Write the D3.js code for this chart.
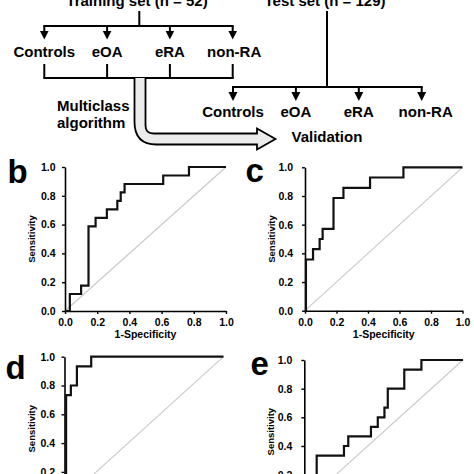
<!DOCTYPE html>
<html><head><meta charset="utf-8">
<script src="https://cdn.jsdelivr.net/npm/d3@7"></script>
<style>html,body{margin:0;padding:0;background:#fff;overflow:hidden}svg{display:block}</style>
</head><body>
<svg id="chart" width="474" height="474"></svg>
<script>
// ---------- data ----------
const categories = ["Controls", "eOA", "eRA", "non-RA"];
const cohortTitles = ["Training set (n = 52)", "Test set (n = 129)"];
const algorithmLabel = ["Multiclass", "algorithm"];
const validationLabel = "Validation";
const panelLetters = ["b", "c", "d", "e"];
const tickValues = [0, 0.2, 0.4, 0.6, 0.8, 1.0];
const xTitle = "1-Specificity";
const yTitle = "Sensitivity";

// ROC corner points: 1-specificity and sensitivity
const fprB = [0, 0.03, 0.10, 0.146, 0.19, 0.26, 0.325, 0.346, 0.37, 0.61, 0.77, 1];
const tprB = [0, 0.118, 0.176, 0.588, 0.647, 0.706, 0.765, 0.824, 0.882, 0.941, 1, 1];
const fprC = [0, 0.006, 0.051, 0.093, 0.112, 0.181, 0.244, 0.413, 0.625, 1];
const tprC = [0, 0.357, 0.429, 0.5, 0.571, 0.786, 0.857, 0.929, 1, 1];
const fprD = [0, 0.01, 0.04, 0.078, 0.168, 1];
const tprD = [0, 0.733, 0.8, 0.933, 1, 1];
const fprE = [0, 0.02, 0.078, 0.25, 0.277, 0.42, 0.463, 0.505, 0.526, 0.63, 0.738, 1];
const tprE = [0, 0.133, 0.333, 0.4, 0.467, 0.533, 0.6, 0.667, 0.8, 0.933, 1, 1];

// ---------- setup ----------
const FONT = "'Liberation Sans', Arial, sans-serif";
const svg = d3.select("#chart");
svg.append("rect").attr("width", 474).attr("height", 474).attr("fill", "#fff");

// ---------- flowchart ----------
const fc = svg.append("g").attr("font-family", FONT).attr("font-weight", "bold").attr("fill", "#000");
const xTrain = d3.scalePoint().domain(categories).range([44.3, 232.7]);
const xTest = d3.scalePoint().domain(categories).range([233, 421.7]);
const lineStyle = s => s.attr("stroke", "#000").attr("stroke-width", 2).attr("fill", "none");

function seg(x1, y1, x2, y2) {
  fc.append("line").attr("x1", x1).attr("y1", y1).attr("x2", x2).attr("y2", y2).call(lineStyle);
}
function arrowHead(x, yBase, yTip, half) {
  fc.append("path").attr("d", `M${x - half},${yBase}L${x + half},${yBase}L${x},${yTip}Z`).attr("fill", "#000");
}

// titles (clipped at top)
fc.append("text").attr("x", 137).attr("y", 5.5).attr("text-anchor", "middle").attr("font-size", 15).text(cohortTitles[0]);
fc.append("text").attr("x", 325).attr("y", 5.5).attr("text-anchor", "middle").attr("font-size", 15).text(cohortTitles[1]);

// training tree
seg(139.3, 11, 139.3, 26);
seg(xTrain(categories[0]) - 1, 26, xTrain(categories[3]) + 1, 26);
categories.forEach(c => {
  seg(xTrain(c), 26, xTrain(c), 32);
  arrowHead(xTrain(c), 31, 39.5, 4.3);
  fc.append("text").attr("x", xTrain(c) + (c === "non-RA" ? 1.5 : 0)).attr("y", 57)
    .attr("text-anchor", "middle").attr("font-size", 15).text(c);
  seg(xTrain(c), 64, xTrain(c), 78);
});
seg(xTrain(categories[0]) - 1, 78, xTrain(categories[3]) + 1, 78);

// test tree
seg(327, 11, 327, 87);
seg(xTest(categories[0]) - 1, 87, xTest(categories[3]) + 1, 87);
categories.forEach(c => {
  seg(xTest(c), 87, xTest(c), 93);
  arrowHead(xTest(c), 92, 101, 4.5);
  fc.append("text").attr("x", xTest(c) + (c === "non-RA" ? 4 : 0)).attr("y", 117)
    .attr("text-anchor", "middle").attr("font-size", 15).text(c);
});

// hollow arrow
const aL = 134.5, aR = 145.5, bT = 133.5, bB = 144.5, headX = 257, tipX = 275.5;
fc.append("path")
  .attr("d", `M${aL},78 L${aL},122 Q${aL},${bB} ${aL + 22},${bB} L${headX},${bB} L${headX},149.5 L${tipX},139 L${headX},128.5 L${headX},${bT} L${aR + 8},${bT} Q${aR},${bT} ${aR},${bT - 8} L${aR},78`)
  .attr("fill", "#ececec").attr("stroke", "#000").attr("stroke-width", 1.8).attr("stroke-linejoin", "miter");

fc.append("text").attr("x", 57).attr("y", 110.5).attr("font-size", 15).text(algorithmLabel[0]);
fc.append("text").attr("x", 57).attr("y", 128).attr("font-size", 15).text(algorithmLabel[1]);
fc.append("text").attr("x", 291.5).attr("y", 141.5).attr("font-size", 15).text(validationLabel);

// ---------- ROC panels ----------
const panels = [
  { letter: panelLetters[0], fpr: fprB, tpr: tprB, x0: 65, x1: 226, yTop: 167, yBot: 311, pad: 6.5, lx: 7.5, ly: 183 },
  { letter: panelLetters[1], fpr: fprC, tpr: tprC, x0: 305, x1: 462.5, yTop: 167.3, yBot: 310.7, pad: 9, lx: 245.5, ly: 182 },
  { letter: panelLetters[2], fpr: fprD, tpr: tprD, x0: 64.5, x1: 223.5, yTop: 356.7, yBot: 500.7, pad: 6.5, lx: 5.5, ly: 379 },
  { letter: panelLetters[3], fpr: fprE, tpr: tprE, x0: 304.3, x1: 463, yTop: 360, yBot: 503.3, pad: 9, lx: 250.5, ly: 375 }
];

panels.forEach(p => {
  const g = svg.append("g");
  const x = d3.scaleLinear().domain([0, 1]).range([p.x0, p.x1]);
  const y = d3.scaleLinear().domain([0, 1]).range([p.yBot, p.yTop]);

  // reference diagonal
  const ends = [tickValues[0], tickValues[tickValues.length - 1]];
  g.append("path").datum(ends)
    .attr("d", d3.line().x(d => x(d)).y(d => y(d)))
    .attr("stroke", "#c9c9c9").attr("stroke-width", 1.1).attr("fill", "none");

  const fmt = d3.format(".1f");
  const xa = g.append("g").attr("transform", `translate(0,${p.yBot})`)
    .call(d3.axisBottom(x).tickValues(tickValues).tickFormat(fmt).tickSize(3).tickSizeOuter(0).tickPadding(5));
  const ya = g.append("g").attr("transform", `translate(${p.x0},0)`)
    .call(d3.axisLeft(y).tickValues(tickValues).tickFormat(fmt).tickSize(3).tickSizeOuter(0).tickPadding(p.pad));
  [xa, ya].forEach(a => {
    a.select(".domain").attr("stroke", "#000").attr("stroke-width", 1.6);
    a.selectAll(".tick line").attr("stroke", "#000").attr("stroke-width", 1.4);
    a.selectAll(".tick text").attr("font-family", FONT).attr("font-weight", "bold")
      .attr("font-size", 10.5).attr("fill", "#000");
  });

  // ROC curve
  const idx = d3.range(p.fpr.length);
  g.append("path").datum(idx)
    .attr("d", d3.line().x(i => x(p.fpr[i])).y(i => y(p.tpr[i])).curve(d3.curveStepAfter))
    .attr("stroke", "#111").attr("stroke-width", 2.2).attr("fill", "none").attr("stroke-linejoin", "miter");

  // axis titles
  g.append("text").attr("x", (p.x0 + p.x1) / 2).attr("y", p.yBot + 27)
    .attr("text-anchor", "middle").attr("font-family", FONT).attr("font-weight", "bold")
    .attr("font-size", 10.5).text(xTitle);
  g.append("text").attr("transform", `translate(${p.x0 - 30},${(p.yTop + p.yBot) / 2}) rotate(-90)`)
    .attr("text-anchor", "middle").attr("font-family", FONT).attr("font-weight", "bold")
    .attr("font-size", 9.5).text(yTitle);

  // panel letter
  g.append("text").attr("x", p.lx).attr("y", p.ly).attr("font-family", FONT)
    .attr("font-weight", "bold").attr("font-size", 33).text(p.letter);
});
</script>
</body></html>
